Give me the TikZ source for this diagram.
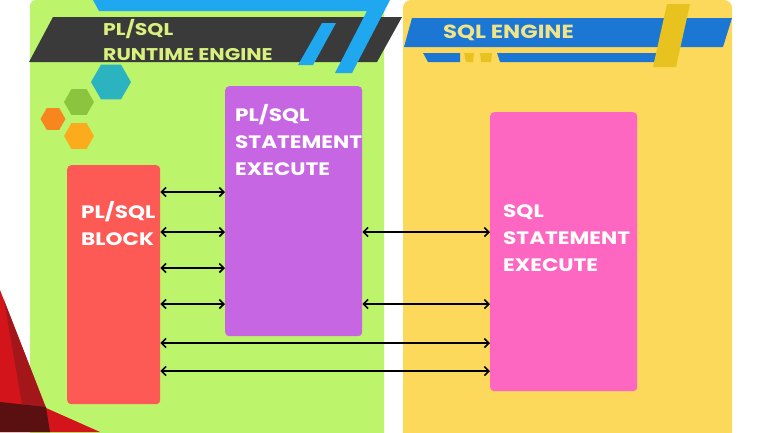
\documentclass[tikz,border=0pt]{standalone}
\usepackage{fontspec}
\setmainfont{Poppins}[FakeStretch=1.2]
\usepackage{tikz}
\usetikzlibrary{arrows.meta, positioning, calc}

\definecolor{limepanel}{HTML}{BCF46B}
\definecolor{sunpanel}{HTML}{FDD95B}
\definecolor{darkband}{HTML}{3A3A3A}
\definecolor{skyband}{HTML}{1FA8F0}
\definecolor{royalband}{HTML}{1B76D4}
\definecolor{goldstripe}{HTML}{E8C21E}
\definecolor{redblock}{HTML}{FD5A56}
\definecolor{violetblock}{HTML}{C766E2}
\definecolor{pinkblock}{HTML}{FD67C2}
\definecolor{limetext}{HTML}{D8F07E}
\definecolor{paletext}{HTML}{F0E48A}
\definecolor{hexteal}{HTML}{2BB4C0}
\definecolor{hexgreen}{HTML}{8BC540}
\definecolor{hexorange}{HTML}{F7861E}
\definecolor{hexamber}{HTML}{FBAB1C}
\definecolor{cornerred}{HTML}{D3141B}
\definecolor{cornerdark}{HTML}{A3161A}
\definecolor{cornermaroon}{HTML}{5A1010}

\begin{document}
\begin{tikzpicture}[
  x=1pt, y=-1pt,
  block/.style={rectangle, rounded corners=4pt, inner sep=0pt, anchor=north west},
  blocktext/.style={text=white, font=\bfseries\fontsize{18}{27}\selectfont,
                    align=left, inner sep=0pt, anchor=north west},
  headtext/.style={font=\bfseries\fontsize{17}{25}\selectfont,
                   align=left, inner sep=0pt, anchor=north west},
  link/.style={line width=1.6pt, black, {Straight Barb[length=4.5pt,width=9pt]}-{Straight Barb[length=4.5pt,width=9pt]}},
]
  \useasboundingbox (0,0) rectangle (768,432);
  \fill[white] (0,0) rectangle (768,432);

  % Panels
  \fill[limepanel, rounded corners=6pt] (30,0) rectangle (384,445);
  \fill[sunpanel, rounded corners=8pt] (403,0) rectangle (732,445);

  % Runtime engine banner
  \fill[darkband] (53,17) -- (402,17) -- (377,62) -- (29,62) -- cycle;
  \fill[skyband] (93,0) -- (390,0) -- (352,73) -- (335,73) -- (367,11) -- (99,11) -- cycle;
  \fill[skyband] (322,23) -- (336,23) -- (313,65) -- (298,65) -- cycle;
  \node[headtext, text=limetext] (rtetitle) at (103,19) {PL/SQL\\RUNTIME ENGINE};

  % SQL engine banner
  \fill[royalband] (412,18) -- (732,18) -- (723,47) -- (404,47) -- cycle;
  \fill[royalband] (423,53) -- (460,53) -- (460,62) -- (428,62) -- cycle;
  \fill[goldstripe] (464,53) -- (474,53) -- (473,62) -- (466,62) -- cycle;
  \fill[goldstripe] (480,53) -- (492,53) -- (491,62) -- (481,62) -- cycle;
  \fill[royalband] (497,53) -- (662,53) -- (662,62) -- (500,62) -- cycle;
  \fill[goldstripe] (667,4) -- (690,4) -- (676,67) -- (653,67) -- cycle;
  \node[headtext, text=paletext, font=\bfseries\fontsize{19}{25}\selectfont]
    (sqltitle) at (443,25) {SQL ENGINE};

  % Hexagons
  \foreach \cx/\cy/\r/\c in {111/82/20/hexteal, 79/102/15/hexgreen,
                             53/119/12.5/hexorange, 79/136/15/hexamber} {
    \fill[\c] (\cx,\cy) +(0:\r) -- +(60:\r) -- +(120:\r) -- +(180:\r)
      -- +(240:\r) -- +(300:\r) -- cycle;
  }

  % Corner shards
  \fill[cornerred] (0,290) -- (46,408) -- (100,432) -- (0,432) -- cycle;
  \fill[cornerdark] (4,300) -- (46,408) -- (22,404) -- cycle;
  \fill[cornermaroon] (0,402) -- (46,407) -- (50,432) -- (0,432) -- cycle;

  % Blocks
  \node[block, fill=redblock, minimum width=93pt, minimum height=239pt]
    (plblock) at (67,165) {};
  \node[block, fill=violetblock, minimum width=137pt, minimum height=250pt]
    (plstmt) at (225,86) {};
  \node[block, fill=pinkblock, minimum width=147pt, minimum height=279pt]
    (sqlstmt) at (490,112) {};

  \node[blocktext] (plblocktxt) at (81,201) {PL/SQL\\BLOCK};
  \node[blocktext] (plstmttxt) at (235,104) {PL/SQL\\STATEMENT\\EXECUTE};
  \node[blocktext] (sqlstmttxt) at (503,204) {SQL\\STATEMENT\\EXECUTE};

  % Connectors
  \foreach \n/\y in {r1/192, r2/232, r3/268, r4/304, r5/343, r6/371}
    \coordinate (\n) at (0,\y);
  \foreach \n in {r1, r2, r3, r4}
    \draw[link] (plblock.east |- \n) -- (plstmt.west |- \n);
  \foreach \n in {r2, r4}
    \draw[link] (plstmt.east |- \n) -- (sqlstmt.west |- \n);
  \foreach \n in {r5, r6}
    \draw[link] (plblock.east |- \n) -- (sqlstmt.west |- \n);
\end{tikzpicture}
\end{document}
